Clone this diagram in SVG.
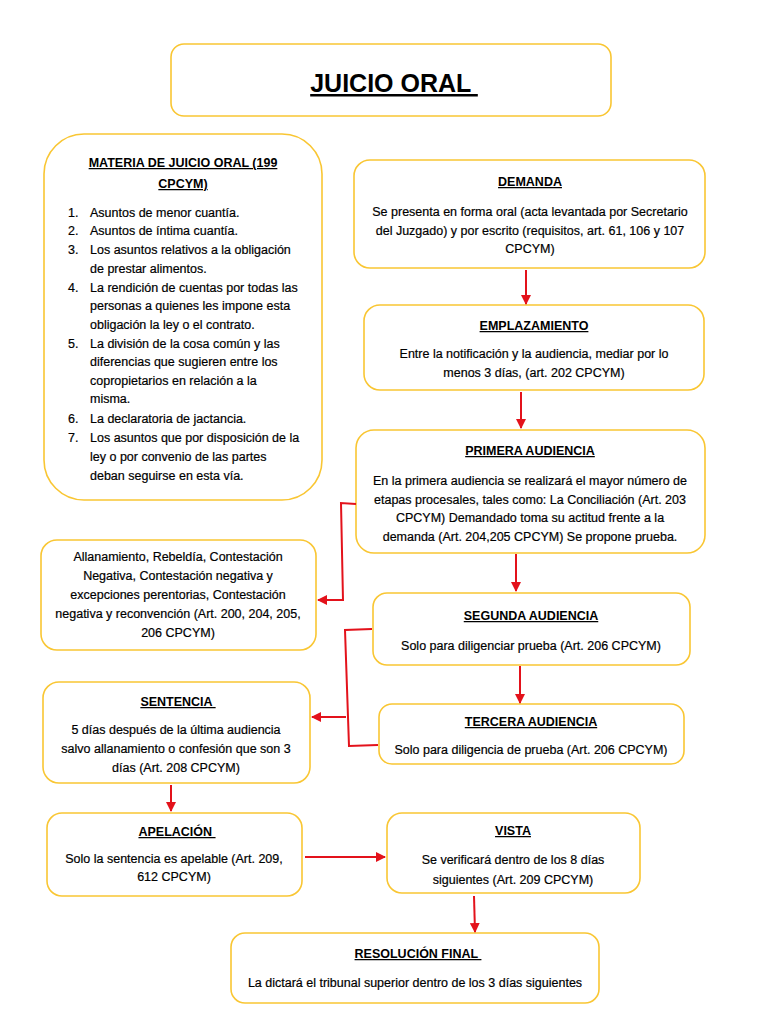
<svg xmlns="http://www.w3.org/2000/svg" width="768" height="1024" viewBox="0 0 768 1024">
<style>
.box{fill:#fff;stroke:#F9C633;stroke-width:1.6}
text{font-family:"Liberation Sans",Arial,sans-serif;font-size:12.5px;fill:#000;stroke:#000;stroke-width:0.2;white-space:pre}
.c{text-anchor:middle}
.h{font-weight:bold;text-decoration:underline;font-size:12.5px;stroke-width:0}
.t{font-weight:bold;text-decoration:underline;font-size:25px;stroke-width:0}
.ln{fill:none;stroke:#E3121B;stroke-width:2}
</style>
<defs>
<marker id="ah" viewBox="0 0 10 10" refX="9" refY="5" markerWidth="5" markerHeight="5" orient="auto">
<path d="M0,0 L10,5 L0,10 z" fill="#E3121B"/>
</marker>
</defs>
<rect width="768" height="1024" fill="#fff"/>

<g id="titulo">
<rect class="box" x="171" y="44" width="440" height="72" rx="13"/>
<text class="t c" x="394" y="92">JUICIO ORAL </text>
</g>

<g id="materia">
<rect class="box" x="44" y="134" width="278" height="366" rx="40"/>
<text class="h c" x="183" y="167">MATERIA DE JUICIO ORAL (199</text>
<text class="h c" x="183" y="188">CPCYM)</text>
<text x="68" y="217">1.</text><text x="90" y="217">Asuntos de menor cuantía.</text>
<text x="68" y="235">2.</text><text x="90" y="235">Asuntos de íntima cuantía.</text>
<text x="68" y="254">3.</text><text x="90" y="254">Los asuntos relativos a la obligación</text>
<text x="90" y="273">de prestar alimentos.</text>
<text x="68" y="292">4.</text><text x="90" y="292">La rendición de cuentas por todas las</text>
<text x="90" y="310">personas a quienes les impone esta</text>
<text x="90" y="329">obligación la ley o el contrato.</text>
<text x="68" y="348">5.</text><text x="90" y="348">La división de la cosa común y las</text>
<text x="90" y="366">diferencias que sugieren entre los</text>
<text x="90" y="385">copropietarios en relación a la</text>
<text x="90" y="403">misma.</text>
<text x="68" y="423">6.</text><text x="90" y="423">La declaratoria de jactancia.</text>
<text x="68" y="442">7.</text><text x="90" y="442">Los asuntos que por disposición de la</text>
<text x="90" y="461">ley o por convenio de las partes</text>
<text x="90" y="480">deban seguirse en esta vía.</text>
</g>

<g id="demanda">
<rect class="box" x="354" y="160" width="351" height="108" rx="16"/>
<text class="h c" x="530" y="186">DEMANDA</text>
<text class="c" x="530" y="216">Se presenta en forma oral (acta levantada por Secretario</text>
<text class="c" x="530" y="235">del Juzgado) y por escrito (requisitos, art. 61, 106 y 107</text>
<text class="c" x="530" y="253">CPCYM)</text>
</g>

<g id="emplazamiento">
<rect class="box" x="364" y="305" width="340" height="85" rx="16"/>
<text class="h c" x="534" y="330">EMPLAZAMIENTO</text>
<text class="c" x="534" y="358">Entre la notificación y la audiencia, mediar por lo</text>
<text class="c" x="534" y="377">menos 3 días, (art. 202 CPCYM)</text>
</g>

<g id="primera">
<rect class="box" x="356" y="430" width="349" height="123" rx="18"/>
<text class="h c" x="530" y="455">PRIMERA AUDIENCIA</text>
<text class="c" x="530" y="485">En la primera audiencia se realizará el mayor número de</text>
<text class="c" x="530" y="504">etapas procesales, tales como: La Conciliación (Art. 203</text>
<text class="c" x="530" y="522">CPCYM) Demandado toma su actitud frente a la</text>
<text class="c" x="530" y="541">demanda (Art. 204,205 CPCYM) Se propone prueba.</text>
</g>

<g id="allanamiento">
<rect class="box" x="41" y="540" width="275" height="110" rx="16"/>
<text class="c" x="178" y="561">Allanamiento, Rebeldía, Contestación</text>
<text class="c" x="178" y="580">Negativa, Contestación negativa y</text>
<text class="c" x="178" y="599">excepciones perentorias, Contestación</text>
<text class="c" x="178" y="618">negativa y reconvención (Art. 200, 204, 205,</text>
<text class="c" x="178" y="637">206 CPCYM)</text>
</g>

<g id="segunda">
<rect class="box" x="373" y="593" width="317" height="72" rx="14"/>
<text class="h c" x="531" y="620">SEGUNDA AUDIENCIA</text>
<text class="c" x="531" y="650">Solo para diligenciar prueba (Art. 206 CPCYM)</text>
</g>

<g id="tercera">
<rect class="box" x="379" y="704" width="305" height="60" rx="13"/>
<text class="h c" x="531" y="726">TERCERA AUDIENCIA</text>
<text class="c" x="531" y="754">Solo para diligencia de prueba (Art. 206 CPCYM)</text>
</g>

<g id="sentencia">
<rect class="box" x="43" y="682" width="267" height="101" rx="16"/>
<text class="h c" x="178" y="706">SENTENCIA </text>
<text class="c" x="176" y="734">5 días después de la última audiencia</text>
<text class="c" x="176" y="753">salvo allanamiento o confesión que son 3</text>
<text class="c" x="176" y="772">días (Art. 208 CPCYM)</text>
</g>

<g id="apelacion">
<rect class="box" x="47" y="813" width="255" height="83" rx="15"/>
<text class="h c" x="177" y="836">APELACIÓN </text>
<text class="c" x="174" y="863">Solo la sentencia es apelable (Art. 209,</text>
<text class="c" x="174" y="881">612 CPCYM)</text>
</g>

<g id="vista">
<rect class="box" x="387" y="813" width="253" height="80" rx="15"/>
<text class="h c" x="513" y="835">VISTA</text>
<text class="c" x="513" y="864">Se verificará dentro de los 8 días</text>
<text class="c" x="513" y="884">siguientes (Art. 209 CPCYM)</text>
</g>

<g id="resolucion">
<rect class="box" x="231" y="933" width="368" height="70" rx="14"/>
<text class="h c" x="418" y="958">RESOLUCIÓN FINAL </text>
<text class="c" x="415" y="987">La dictará el tribunal superior dentro de los 3 días siguientes</text>
</g>

<g id="conectores">
<line class="ln" x1="526" y1="270" x2="526" y2="304" marker-end="url(#ah)"/>
<line class="ln" x1="521" y1="392" x2="521" y2="428" marker-end="url(#ah)"/>
<line class="ln" x1="516" y1="554" x2="516" y2="591" marker-end="url(#ah)"/>
<line class="ln" x1="520" y1="666" x2="520" y2="703" marker-end="url(#ah)"/>
<polyline class="ln" points="356,504 341,503 343,600 318,600" marker-end="url(#ah)"/>
<polyline class="ln" points="372,629 345,630 349,746 378,745"/>
<line class="ln" x1="346" y1="717" x2="312" y2="717" marker-end="url(#ah)"/>
<line class="ln" x1="171" y1="785" x2="171" y2="811" marker-end="url(#ah)"/>
<line class="ln" x1="305" y1="857" x2="385" y2="857" marker-end="url(#ah)"/>
<line class="ln" x1="474" y1="896" x2="475" y2="932" marker-end="url(#ah)"/>
</g>
</svg>
